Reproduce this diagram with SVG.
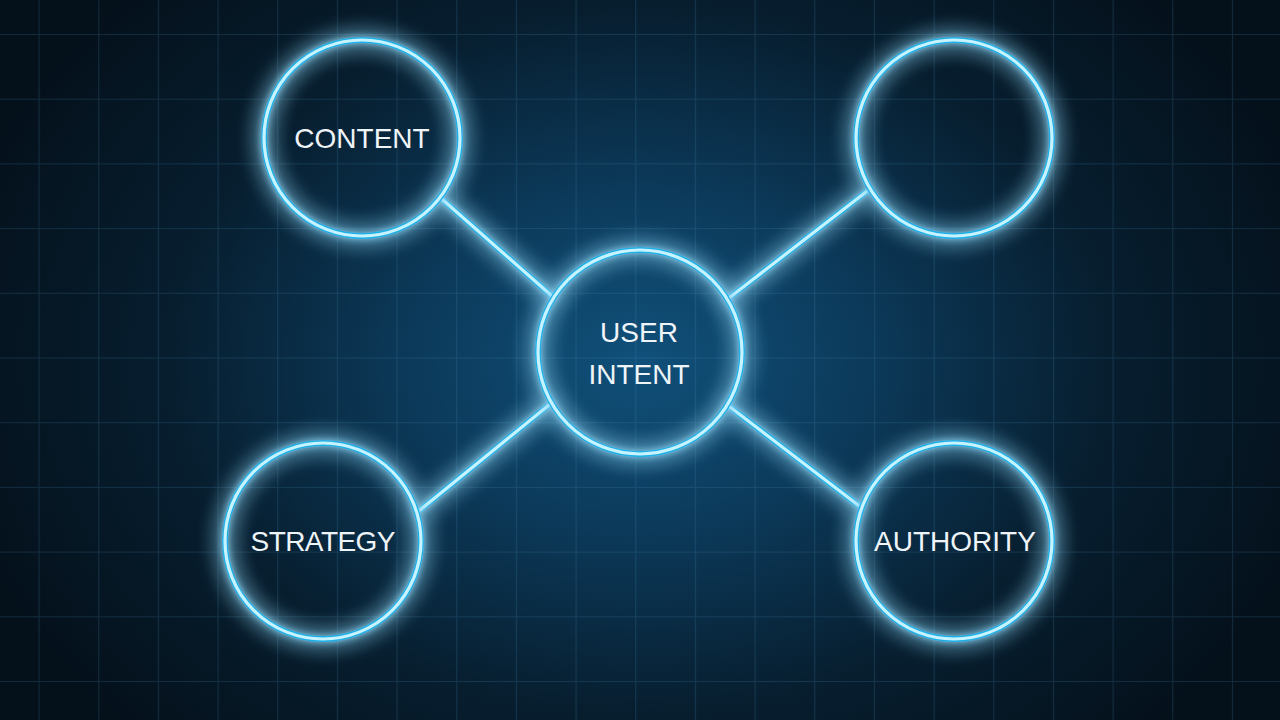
<svg xmlns="http://www.w3.org/2000/svg" width="1280" height="720" viewBox="0 0 1280 720">
<defs>
<radialGradient id="bg" cx="640" cy="360" r="720" gradientUnits="userSpaceOnUse" gradientTransform="translate(640 360) scale(1 0.75) translate(-640 -360)">
<stop offset="0" stop-color="#10507a"/>
<stop offset="0.3" stop-color="#0c3b5c"/>
<stop offset="0.65" stop-color="#071e2f"/>
<stop offset="1" stop-color="#04101a"/>
</radialGradient>
<pattern id="grid" x="38.5" y="34" width="59.67" height="64.7" patternUnits="userSpaceOnUse">
<path d="M0.5 0 V64.7 M0 0.5 H59.67" fill="none" stroke="#4a93bd" stroke-width="1.2" stroke-opacity="0.2"/>
</pattern>
<filter id="glow" x="-30%" y="-30%" width="160%" height="160%">
<feGaussianBlur in="SourceGraphic" stdDeviation="11" result="b1"/>
<feGaussianBlur in="SourceGraphic" stdDeviation="3.5" result="b2"/>
<feMerge>
<feMergeNode in="b1"/>
<feMergeNode in="b1"/>
<feMergeNode in="b2"/>
<feMergeNode in="SourceGraphic"/>
</feMerge>
</filter>
</defs>
<style>
.halo{fill:none;stroke:#1fb0e6;stroke-width:6;stroke-linecap:round}
.core{fill:none;stroke:#c6f3ff;stroke-width:3.2;stroke-linecap:round}
.lbl{font-family:"Liberation Sans",Arial,sans-serif;font-size:28px;fill:#eef4f8;text-anchor:middle}
</style>
<rect width="1280" height="720" fill="url(#bg)"/>
<rect width="1280" height="720" fill="url(#grid)"/>
<g id="connectors" filter="url(#glow)">
<line class="halo" x1="443" y1="200" x2="552" y2="296"/>
<line class="core" x1="443" y1="200" x2="552" y2="296"/>
<line class="halo" x1="866" y1="192" x2="729" y2="298"/>
<line class="core" x1="866" y1="192" x2="729" y2="298"/>
<line class="halo" x1="420" y1="510" x2="549" y2="405"/>
<line class="core" x1="420" y1="510" x2="549" y2="405"/>
<line class="halo" x1="858" y1="505" x2="730" y2="407"/>
<line class="core" x1="858" y1="505" x2="730" y2="407"/>
</g>
<g id="node-center">
<g filter="url(#glow)"><circle class="halo" cx="640" cy="352" r="102"/><circle class="core" cx="640" cy="352" r="102"/></g>
<text class="lbl" x="639" y="342">USER</text>
<text class="lbl" x="639" y="384">INTENT</text>
</g>
<g id="node-content">
<g filter="url(#glow)"><circle class="halo" cx="362" cy="138" r="98"/><circle class="core" cx="362" cy="138" r="98"/></g>
<text class="lbl" x="362" y="148">CONTENT</text>
</g>
<g id="node-topright">
<g filter="url(#glow)"><circle class="halo" cx="954" cy="138" r="98"/><circle class="core" cx="954" cy="138" r="98"/></g>
</g>
<g id="node-strategy">
<g filter="url(#glow)"><circle class="halo" cx="323" cy="541" r="98"/><circle class="core" cx="323" cy="541" r="98"/></g>
<text class="lbl" x="323" y="551" textLength="145">STRATEGY</text>
</g>
<g id="node-authority">
<g filter="url(#glow)"><circle class="halo" cx="954" cy="541" r="98"/><circle class="core" cx="954" cy="541" r="98"/></g>
<text class="lbl" x="955" y="551">AUTHORITY</text>
</g>
</svg>
